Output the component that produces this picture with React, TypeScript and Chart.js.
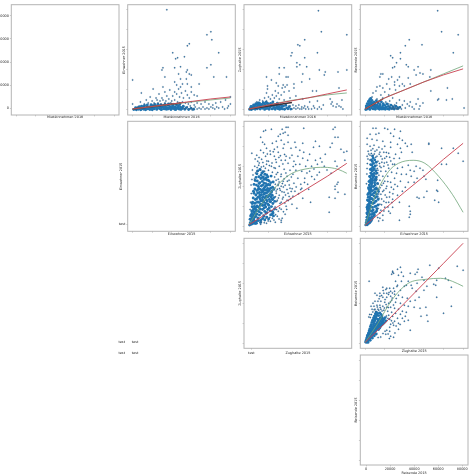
import React, { useEffect, useRef } from "react";
import { Chart, registerables } from "chart.js";

Chart.register(...registerables);

const labelMiete = "Mieteinnahmen 2016";
const labelEinwohner = "Einwohner 2015";
const labelZughalte = "Zughalte 2015";
const labelReisende = "Reisende 2015";
const testLabel = "test";

const mieteEinwohner = [[35,100],[76,75],[80,78],[81,70],[58,66],[56,64],[41,57],[88,57],[53,53],[46,52],[44,51],[80,45],[76,42],[49,43],[43,42],[31,42],[30,40],[56,40],[55,38],[58,36],[47,36],[60,35],[33,33],[83,33],[96,33],[0,30],[43,28],[49,31],[55,31],[51,26],[56,26],[68,26],[31,23],[45,25],[49,23],[60,23],[47,21],[21,21],[9,17],[54,19],[60,18],[43,18],[50,17],[56,15],[63,15],[41,14],[27,16],[33,18],[38,20],[45,16],[48,13],[52,12],[58,12],[66,14],[35,14],[30,12],[24,12],[18,13],[14,10],[8,8],[0,6],[5,3],[100,13],[95,10],[90,8],[100,6],[98,4],[85,7],[25,10],[28,9],[31,10],[34,9],[37,11],[40,9],[43,10],[46,8],[20,9],[16,7],[12,6],[22,7],[26,7],[29,6],[33,7],[36,6],[39,7],[42,6],[45,6],[48,7],[51,8],[54,7],[57,6],[60,8],[63,5],[66,7],[70,6],[74,8],[78,6],[82,5],[86,3],[92,3],[72,3],[76,2],[80,3],[84,1],[88,2],[94,1],[97,2],[68,2],[64,3],[60,2],[56,3],[52,2],[54,1],[58,1],[62,1],[66,1],[70,1],[74,1],[78,1],[82,2],[59,4],[61,0]];
const mieteEinwohnerCore = [[1.2,0.4],[2.7,1.1],[3.9,0.2],[5.3,1.6],[6.1,0.7],[7.8,2.2],[8.4,0.3],[9.6,1.3],[10.7,2.9],[11.5,0.8],[12.9,1.9],[13.3,0.2],[14.8,3.1],[15.6,1.1],[16.2,2.4],[17.7,0.5],[18.3,3.6],[19.4,1.7],[20.1,0.3],[21.6,2.8],[22.2,1.2],[23.5,3.9],[24.7,0.6],[25.3,2.1],[26.8,4.2],[27.4,1.4],[28.1,3.2],[29.6,0.4],[30.2,2.5],[31.9,4.4],[32.3,1.1],[33.7,3.3],[34.4,0.7],[35.8,2.2],[36.5,4.7],[37.1,1.5],[38.6,3.4],[39.2,0.5],[40.7,2.7],[41.3,4.5],[42.9,1.2],[43.6,3.1],[44.2,0.4],[45.5,2.4],[46.8,4.1],[47.3,1.3],[48.9,2.9],[49.4,0.6],[50.6,2.1],[51.8,3.8],[3.1,2.3],[6.9,3.4],[9.2,3.9],[12.2,4.4],[15.1,4.9],[18.9,5.2],[22.7,5.4],[25.9,5.7],[29.1,5.1],[33.2,5.8],[36.9,5.9],[40.1,5.6],[44.8,5.3],[48.2,5.4],[20.8,4.2],[24.1,2.9],[27.9,2.4],[31.1,3.3],[34.9,1.6],[38.2,2.3],[42.2,2.3],[46.1,1.7],[50.2,1.2],[53.4,0.8],[55.1,2.4],[57.3,0.5],[59.8,1.6],[62.4,0.7],[13.9,1.1],[17.1,1.6],[21.1,1.4],[24.9,1.7],[28.8,0.8],[32.9,2.1],[36.1,0.9],[39.9,1.3],[43.1,0.7],[47.7,0.9]];

const mieteZughalte = [[71,99],[74,78],[100,75],[57,70],[50,65],[52,64],[70,57],[44,57],[43,54],[57,52],[49,47],[52,45],[49,43],[59,43],[31,42],[36,42],[72,40],[78,38],[77,35],[91,38],[100,40],[31,36],[55,36],[18,33],[38,33],[40,33],[23,30],[62,31],[54,28],[46,26],[28,27],[19,24],[19,21],[35,25],[39,25],[37,23],[30,24],[34,22],[92,22],[65,19],[69,19],[46,22],[41,19],[36,18],[30,17],[27,19],[18,17],[24,15],[28,14],[33,15],[20,13],[16,12],[22,11],[26,12],[14,9],[11,10],[8,8],[18,9],[31,11],[36,10],[42,12],[48,14],[55,11],[62,8],[70,9],[83,11],[85,8],[86,4],[90,6],[92,4],[95,10],[96,1],[94,3],[89,3],[84,6],[76,5],[72,3],[66,4],[60,3],[42,4],[45,5],[48,4],[51,5],[54,3],[57,4],[44,1],[46,2],[48,1],[50,2],[52,1],[54,1],[56,2],[58,1],[61,1],[64,1],[67,2],[70,1],[74,1]];
const mieteZughalteCore = [[0.8,0.6],[1.9,2.1],[2.6,0.4],[3.4,3.2],[4.1,1.3],[4.9,5.1],[5.7,2.6],[6.4,0.7],[7.2,6.2],[7.9,3.4],[8.6,1.2],[9.3,4.7],[10.1,2.3],[10.8,6.8],[11.5,0.9],[12.3,3.8],[13.2,5.6],[13.9,1.7],[14.7,7.3],[15.4,2.9],[16.1,0.6],[16.9,4.9],[17.6,7.7],[18.3,1.4],[19.1,3.3],[19.8,5.8],[20.6,0.8],[21.4,2.5],[22.1,6.4],[22.9,4.1],[23.7,1.1],[24.5,7.9],[25.2,3.1],[26.1,5.2],[26.8,0.7],[27.6,2.2],[28.3,4.4],[29.1,6.7],[29.9,1.3],[30.7,3.6],[31.5,0.8],[32.3,5.1],[33.2,2.4],[34.1,1.1],[35.3,3.9],[36.4,0.7],[37.6,4.7],[38.7,2.1],[39.9,1.2],[41.2,3.2],[42.8,0.9],[5.2,4.3],[8.9,5.4],[12.6,2.2],[3.1,1.6],[6.1,4.7],[9.7,7.1],[14.2,4.3],[17.3,2.4],[20.2,4.2],[23.4,6.1],[25.9,1.8],[28.9,2.9],[31.1,2.2],[33.7,4.2],[11.1,4.8],[15.8,6.3],[18.9,6.8],[1.3,1.2],[2.2,3.5]];

const mieteReisende = [[74,99],[78,78],[95,75],[45,70],[58,65],[41,64],[90,57],[36,57],[26,54],[28,52],[36,51],[32,47],[42,45],[44,43],[30,43],[28,42],[54,43],[50,40],[67,40],[56,37],[59,36],[16,36],[18,36],[15,33],[27,33],[35,33],[66,33],[44,32],[52,35],[33,30],[30,28],[24,31],[38,26],[35,24],[30,25],[22,26],[15,24],[12,23],[18,22],[25,21],[31,20],[40,24],[46,26],[67,19],[84,22],[75,11],[74,10],[83,10],[89,11],[101,2],[59,7],[54,11],[46,8],[52,6],[56,4],[48,3],[43,6],[40,9],[35,10],[32,7],[28,12],[24,15],[20,18],[16,15],[11,19],[8,17],[7,13],[12,11],[18,12],[25,9],[30,5],[36,3],[41,2],[45,4],[50,1],[55,1],[38,5],[33,3],[28,4],[24,6],[21,8],[25,3],[28,2],[31,2],[34,1],[37,1],[27,1],[29,1],[30,2],[32,1],[33,1]];
const mieteReisendeCore = [[0.6,0.5],[1.3,2.4],[1.9,0.9],[2.5,4.3],[3.1,1.7],[3.7,6.2],[4.2,3.1],[4.8,0.6],[5.3,8.1],[5.9,4.9],[6.4,2.2],[6.9,9.4],[7.5,6.6],[8.1,1.1],[8.6,3.7],[9.2,7.8],[9.8,5.3],[10.3,0.8],[10.9,2.9],[11.4,9.3],[12.1,4.7],[12.7,1.6],[13.3,6.9],[13.9,3.2],[14.6,0.7],[15.2,5.4],[15.8,2.1],[16.5,8.1],[17.1,0.9],[17.8,3.9],[18.4,6.2],[19.1,1.8],[19.8,4.6],[20.5,0.8],[21.2,2.9],[22.1,5.9],[22.8,1.2],[23.6,3.6],[24.5,0.7],[25.4,2.3],[26.3,4.8],[27.4,1.4],[28.5,3.1],[29.7,0.9],[31.3,3.8],[33.2,1.8],[35.1,2.6],[2.1,6.3],[3.3,8.4],[4.5,10.2],[5.6,11.4],[6.8,7.3],[1.1,4.1],[2.8,2.6],[3.9,4.8],[5.1,6.2],[7.2,4.3],[8.3,5.4],[9.6,2.3],[11.2,3.8],[13.1,2.2],[14.8,4.1],[16.9,2.4],[18.7,1.1]];

const einwohnerZughalte = [[88,99],[86,97],[15,95],[17,96],[23,97],[34,97],[38,99],[40,99],[56,98],[35,93],[37,94],[32,92],[30,90],[12,89],[40,91],[88,89],[91,89],[14,84],[16,82],[24,83],[28,85],[33,86],[36,82],[40,84],[47,84],[55,83],[68,85],[72,80],[85,83],[83,79],[94,77],[97,74],[3,73],[8,71],[12,76],[18,78],[26,77],[30,74],[35,78],[43,78],[48,79],[52,76],[56,74],[62,72],[66,79],[78,72],[100,75],[38,70],[44,71],[50,70],[55,68],[60,66],[68,66],[73,68],[26,70],[22,72],[17,70],[13,67],[9,65],[20,65],[28,64],[33,66],[40,63],[46,65],[52,62],[58,60],[64,60],[70,62],[77,60],[88,65],[98,66],[90,60],[6,60],[10,61],[15,60],[18,62],[23,60],[27,58],[31,60],[36,57],[42,56],[48,56],[54,55],[62,55],[72,54],[84,53],[8,55],[12,56],[16,55],[20,56],[24,54],[28,52],[33,52],[39,50],[45,52],[50,48],[57,48],[67,47],[30,47],[35,45],[41,46],[46,43],[53,42],[60,42],[54,38],[61,37],[91,44],[90,42],[88,40],[88,37],[91,34],[98,32],[82,29],[88,28],[27,42],[30,42],[33,40],[37,41],[42,38],[47,35],[29,37],[32,36],[36,34],[40,33],[45,30],[55,28],[63,24],[82,14],[28,33],[31,31],[35,29],[39,26],[44,22],[49,18],[29,26],[33,24],[38,20],[33,17],[37,12],[30,15],[29,10],[34,8],[24,8],[33,6],[22,5],[27,4],[33,4],[18,3],[12,2]];
const einwohnerZughalteWide = [[26.3,49.2],[27.8,46.1],[29.4,53.7],[30.9,44.3],[32.7,49.8],[34.2,42.7],[36.1,47.6],[37.8,53.2],[39.3,45.1],[41.2,41.4],[43.4,49.3],[26.6,38.4],[27.9,35.2],[29.7,40.7],[31.3,37.8],[33.8,34.6],[35.2,39.2],[37.4,31.3],[38.9,36.7],[41.1,29.8],[43.2,34.9],[27.1,29.6],[28.4,24.7],[30.2,28.3],[31.8,22.9],[34.3,27.4],[36.7,23.2],[40.3,25.8],[42.7,27.6],[26.8,19.4],[28.2,16.7],[31.3,18.2],[35.3,14.6],[38.6,16.9],[8.4,58.7],[10.6,63.4],[12.7,59.2],[14.3,63.8],[16.8,58.1],[18.3,65.2],[20.9,60.7],[23.6,63.4],[25.7,58.6],[27.4,66.8],[30.6,68.9],[34.7,62.4],[37.2,66.1],[5.7,47.3],[6.8,53.2],[4.2,51.4],[3.1,46.8],[2.4,32.7],[2.2,41.3],[3.6,56.2],[1.6,24.1],[1.2,16.8],[21.3,8.9],[19.7,5.4],[17.4,8.1],[15.7,3.6],[14.6,11.2],[12.8,4.2],[27.3,11.6],[25.6,6.2],[30.8,7.4],[18.9,72.4],[21.7,75.3],[24.9,74.6],[29.1,79.2],[32.2,70.6],[36.4,71.9],[10.4,68.7],[6.4,67.2],[14.9,73.6],[41.7,68.4],[45.3,59.8],[47.8,61.7],[44.2,37.6],[48.3,39.4],[50.7,32.6],[52.9,36.7],[56.8,43.9],[59.3,53.2],[64.2,49.7],[66.4,57.3],[69.7,51.2],[74.6,64.3],[79.8,56.2]];
const einwohnerZughalteCore = [[0.7,1.3],[1.4,3.6],[2.1,1.9],[2.6,5.7],[3.2,8.4],[3.9,3.2],[4.3,11.6],[4.8,6.1],[5.4,14.2],[5.9,9.3],[6.3,2.7],[6.8,17.1],[7.4,12.4],[7.9,5.2],[8.3,20.3],[8.8,15.6],[9.4,8.1],[9.9,24.1],[10.3,18.7],[10.8,11.2],[11.4,27.6],[11.9,22.3],[12.3,6.4],[12.8,31.2],[13.4,25.9],[13.9,16.8],[14.3,35.3],[14.8,29.4],[15.4,10.1],[15.9,38.6],[16.4,21.2],[16.9,33.1],[17.4,42.7],[17.9,26.4],[18.5,13.7],[19.1,37.8],[19.6,46.2],[20.2,30.9],[20.8,18.3],[21.4,41.3],[22.1,24.6],[22.7,50.2],[23.3,35.4],[24.1,14.8],[24.8,44.3],[25.6,28.7],[2.3,11.2],[2.9,15.3],[3.4,19.6],[3.8,24.2],[4.4,28.3],[4.9,17.7],[5.2,33.1],[5.7,22.9],[6.1,37.4],[6.6,26.8],[7.1,31.3],[7.7,41.2],[8.1,35.7],[8.6,45.3],[9.2,29.1],[9.7,39.9],[10.2,49.6],[10.7,33.8],[11.2,43.7],[11.7,36.9],[12.2,47.8],[12.7,40.3],[13.2,53.2],[13.7,44.9],[14.2,20.7],[14.7,49.3],[15.2,24.1],[15.7,43.1],[16.2,14.9],[16.7,47.2],[17.2,19.4],[17.7,36.1],[18.2,51.3],[18.7,29.2],[19.3,22.4],[19.9,41.8],[20.4,35.7],[20.9,26.9],[21.6,32.3],[22.3,38.2],[23.1,19.7],[23.8,31.1],[24.5,22.8],[25.3,36.9],[26.2,17.3],[1.2,7.1],[1.8,10.3],[2.4,6.8],[3.1,12.9],[3.6,4.9],[4.1,9.1],[4.6,16.2],[5.1,7.2],[5.6,19.8],[6.2,12.7],[6.7,23.3],[7.2,9.8],[7.8,27.4],[8.4,12.2],[8.9,33.2],[9.5,19.4],[10.1,37.8],[10.6,14.6],[11.1,31.3],[11.6,17.2],[12.1,25.4],[12.6,13.2],[13.1,35.8],[13.6,21.7],[14.1,41.2],[14.6,25.8],[15.1,31.9],[15.6,18.3],[16.1,36.2],[16.6,28.4],[17.1,23.2],[17.6,13.1],[18.1,33.4],[18.6,40.9],[19.2,16.8],[19.8,29.7],[20.3,21.1],[21.1,37.2],[21.8,15.4],[22.6,29.3],[23.4,11.9],[24.3,26.7],[25.1,10.4],[26.4,24.9],[3.3,22.8],[4.7,35.1],[5.3,41.9],[6.4,45.8],[7.3,48.9],[8.2,52.6],[9.1,55.4],[10.4,42.7],[11.3,56.8],[12.4,51.2],[13.3,48.7],[14.4,54.6],[15.3,46.9],[16.3,52.1],[17.3,48.4],[18.4,46.3],[19.4,49.6],[20.6,45.2],[22.4,43.7],[24.2,39.1],[6.9,19.1],[7.6,15.2],[8.7,24.3],[9.3,36.7],[10.9,29.6],[11.8,20.9],[12.9,33.7],[13.8,28.6],[14.9,37.4],[15.8,33.2],[16.8,39.9],[17.8,30.1],[18.8,25.2],[19.7,34.8],[20.7,31.2],[21.7,24.7],[22.9,33.9],[23.7,27.1],[3.7,2.6],[5.8,4.4],[7.7,3.1],[9.8,5.7],[11.9,3.9],[14.1,7.8],[16.2,6.3],[18.3,9.2],[20.1,7.3],[22.2,11.4],[24.7,13.3]];

const einwohnerReisende = [[8,98],[11,98],[20,98],[23,97],[30,97],[5,92],[11,92],[14,93],[26,93],[29,90],[36,95],[2,88],[7,87],[12,86],[18,85],[26,84],[35,88],[38,86],[41,83],[2,82],[5,80],[9,81],[14,79],[20,80],[26,79],[33,82],[36,78],[43,80],[47,82],[65,82],[90,78],[78,78],[65,83],[3,75],[6,76],[10,75],[15,74],[19,74],[24,73],[31,72],[37,74],[48,74],[95,73],[2,70],[5,71],[8,71],[12,70],[16,70],[20,68],[25,69],[35,68],[13,65],[17,64],[22,64],[28,62],[100,65],[83,62],[12,61],[15,60],[19,60],[24,58],[30,62],[33,58],[38,59],[44,61],[52,60],[56,58],[59,56],[50,55],[46,56],[13,56],[16,55],[21,55],[27,54],[32,53],[37,52],[42,52],[47,50],[53,48],[11,52],[14,51],[18,50],[23,50],[30,48],[36,45],[44,44],[50,44],[60,50],[62,47],[78,62],[12,47],[15,46],[20,45],[26,44],[33,40],[41,39],[74,46],[13,42],[17,41],[22,40],[29,37],[38,35],[63,35],[73,36],[74,35],[14,37],[19,36],[25,34],[33,31],[16,32],[22,29],[28,27],[53,29],[55,28],[60,29],[71,26],[14,28],[19,25],[24,24],[75,24],[35,24],[15,22],[20,19],[28,19],[45,20],[46,15],[16,16],[24,15],[18,11],[35,6],[45,9],[46,12],[15,8],[18,6]];
const einwohnerReisendeWide = [[13.7,32.4],[15.2,38.6],[16.8,27.3],[17.9,34.7],[18.6,43.1],[20.4,31.2],[21.3,37.8],[23.1,44.7],[24.8,29.4],[26.7,39.1],[28.3,32.6],[30.4,41.9],[12.3,57.9],[14.6,62.8],[16.2,58.7],[17.4,67.2],[19.6,63.4],[21.8,69.7],[23.3,61.2],[26.1,65.3],[29.4,67.8],[14.3,72.1],[17.2,77.4],[21.6,73.9],[13.2,17.8],[14.9,13.2],[16.7,21.6],[19.1,15.3],[21.4,23.8],[23.2,19.2],[25.6,13.1],[27.3,23.7],[12.8,8.7],[13.7,5.2],[1.3,42.6],[1.7,52.3],[2.2,62.7],[1.9,57.8],[2.8,67.4],[3.6,72.3],[4.8,66.2],[6.3,72.8],[7.8,77.6],[9.4,72.4],[10.7,69.1],[11.9,76.3]];
const einwohnerReisendeCore = [[0.6,1.4],[1.1,3.8],[1.4,6.2],[1.8,9.1],[2.1,12.3],[2.3,4.7],[2.6,15.4],[2.9,7.6],[3.1,18.7],[3.3,10.9],[3.6,22.1],[3.8,13.8],[4.1,25.6],[4.3,17.3],[4.6,29.2],[4.8,20.6],[5.1,33.4],[5.3,8.2],[5.5,24.1],[5.8,37.2],[6.1,11.7],[6.2,27.9],[6.5,41.3],[6.7,15.1],[6.9,31.6],[7.2,45.2],[7.4,18.9],[7.6,35.7],[7.9,22.7],[8.1,49.3],[8.3,26.4],[8.6,39.8],[8.8,13.3],[9.1,30.2],[9.4,53.1],[9.6,43.6],[9.9,19.7],[10.3,34.3],[10.6,47.8],[10.9,25.1],[11.3,38.4],[11.7,15.2],[12.2,29.7],[12.6,42.9],[13.1,21.3],[13.6,34.8],[2.2,17.4],[2.5,21.2],[2.8,25.8],[3.2,29.1],[3.5,33.2],[3.7,37.4],[4.2,41.2],[4.4,35.3],[4.7,45.3],[4.9,39.1],[5.2,49.6],[5.4,43.2],[5.7,53.2],[5.9,47.1],[6.3,57.3],[6.6,51.2],[6.8,61.4],[7.1,55.2],[7.3,64.8],[7.7,59.1],[8.2,68.2],[8.5,62.9],[9.2,57.7],[9.7,66.4],[10.2,60.3],[10.8,55.6],[11.2,64.1],[1.7,13.2],[1.9,19.1],[2.4,26.3],[2.7,31.8],[3.4,38.6],[3.9,44.7],[4.5,49.9],[5.3,56.8],[5.6,61.7],[6.4,66.3],[7.5,70.2],[3.1,5.6],[3.6,8.9],[4.2,12.1],[4.7,6.3],[5.1,15.7],[5.6,19.4],[6.1,23.8],[6.6,9.2],[7.1,27.3],[7.6,12.6],[8.1,16.4],[8.7,33.1],[9.3,23.6],[9.8,37.1],[10.4,28.7],[11.1,20.2],[11.6,32.2],[12.4,36.8],[13.2,26.9],[1.2,2.2],[2.1,1.6],[3.3,2.7],[4.4,3.4],[5.4,4.6],[6.3,5.7],[7.2,7.8],[8.3,9.9],[9.4,11.3],[10.7,14.2],[11.9,17.6],[2.9,13.1],[3.4,16.2],[3.9,19.9],[4.3,23.2],[4.9,27.4],[5.4,31.2],[5.9,35.1],[6.4,39.2],[6.9,43.4],[7.4,47.6],[7.9,52.1],[8.4,56.4],[8.9,50.3],[9.5,46.1],[10.1,41.4],[10.7,45.9],[11.4,49.2],[12.1,53.2]];

const zughalteReisende = [[66,78],[75,75],[94,77],[100,73],[28,72],[28,71],[27,69],[29,70],[36,76],[33,74],[37,71],[34,68],[39,67],[46,70],[53,71],[54,74],[51,69],[58,66],[60,63],[44,62],[85,63],[82,65],[73,63],[47,58],[53,60],[40,57],[4,62],[31,62],[37,62],[42,58],[33,58],[29,55],[25,55],[22,55],[18,56],[63,57],[70,59],[72,58],[88,56],[60,53],[52,52],[48,55],[36,53],[30,52],[26,52],[22,50],[19,50],[15,50],[10,50],[12,48],[15,47],[18,46],[22,46],[26,47],[30,49],[34,48],[38,46],[43,45],[46,42],[51,43],[55,46],[73,46],[8,40],[10,42],[13,42],[16,42],[20,41],[24,40],[27,43],[31,41],[36,40],[40,38],[44,37],[50,36],[56,35],[6,37],[9,37],[12,38],[15,38],[18,37],[22,36],[26,36],[30,35],[34,34],[38,32],[42,31],[62,36],[88,37],[7,34],[10,34],[13,34],[16,34],[19,33],[23,32],[27,31],[31,30],[36,29],[41,27],[44,23],[63,28],[64,22],[80,30],[24,28],[28,27],[33,25],[38,25],[57,27],[25,24],[30,22],[34,20],[40,22],[26,19],[29,18],[34,14],[46,13],[25,16],[22,13],[25,12],[21,9],[26,7],[29,6]];
const zughalteReisendeWide = [[6.3,28.7],[7.8,31.4],[9.2,33.6],[10.7,31.9],[12.4,36.2],[13.8,33.1],[15.3,35.7],[17.2,32.4],[19.6,35.2],[21.4,38.7],[23.6,35.8],[25.7,41.3],[28.9,38.2],[14.2,44.6],[16.7,47.8],[20.3,43.7],[23.8,48.9],[27.6,45.2],[31.7,44.8],[18.4,52.7],[21.1,53.8],[24.3,50.7],[27.8,50.4],[32.4,56.7],[3.7,26.4],[4.6,28.9],[5.2,25.7],[21.7,27.3],[23.2,24.9],[26.8,22.6],[28.3,20.4],[31.6,17.3],[35.7,18.9],[18.2,9.8],[20.3,12.1],[23.4,9.4],[15.8,6.2],[13.2,5.7],[24.7,4.8],[30.4,10.2]];
const zughalteReisendeCore = [[0.4,1.2],[0.9,2.8],[1.3,1.1],[1.6,4.3],[1.9,2.3],[2.2,6.1],[2.5,3.4],[2.8,8.2],[3.1,4.6],[3.4,10.4],[3.7,5.7],[4.1,12.6],[4.4,7.2],[4.7,14.3],[5.1,8.6],[5.4,16.8],[5.7,9.8],[6.1,18.6],[6.4,11.2],[6.8,20.9],[7.2,12.7],[7.6,23.1],[8.1,14.1],[8.5,25.3],[8.9,15.8],[9.4,27.2],[9.9,17.2],[10.4,29.4],[10.9,18.9],[11.4,31.1],[11.9,20.6],[12.5,24.2],[13.1,22.3],[13.7,27.7],[14.3,23.9],[14.9,30.4],[15.5,25.7],[16.2,28.9],[17.1,27.4],[1.2,3.3],[1.8,5.6],[2.3,7.7],[2.7,4.8],[3.2,9.1],[3.6,7.1],[4.2,10.3],[4.6,9.2],[5.2,12.1],[5.6,11.3],[6.2,14.3],[6.6,13.2],[7.3,16.1],[7.7,14.8],[8.3,18.2],[8.8,19.9],[9.2,21.7],[9.7,22.8],[10.2,24.3],[10.7,25.6],[11.2,26.7],[11.8,28.3],[12.2,18.4],[12.8,29.9],[13.3,19.2],[13.9,20.6],[14.5,21.6],[15.2,23.2],[15.8,22.1],[16.6,24.2],[17.6,25.1],[2.1,1.8],[3.3,2.7],[4.3,3.9],[5.3,5.2],[6.3,6.4],[7.1,7.8],[8.2,9.1],[9.1,10.4],[10.1,11.8],[11.1,13.2],[12.1,14.7],[13.2,15.9],[14.2,17.1],[15.1,18.6],[16.1,19.7],[17.3,21.2],[18.4,22.6],[19.2,24.1],[20.4,25.7],[3.8,6.2],[4.9,8.1],[5.9,7.2],[6.9,9.7],[7.9,11.1],[8.7,12.3],[9.6,13.7],[10.6,15.1],[11.6,16.6],[12.6,17.1],[13.6,13.8],[14.8,15.2],[15.7,16.8],[16.9,18.2],[18.1,19.3],[19.4,20.6],[21.2,22.3],[2.9,0.9],[5.1,3.1],[7.4,5.2],[9.3,7.6],[11.3,9.3]];

const lineXs = [0, 20, 40, 60, 80, 100];
const redMieteEinwohner = [1, 3.5, 6, 8.5, 11, 13];
const greenMieteEinwohner = [1, 3.4, 5.8, 8, 10, 12];
const darkMieteEinwohner = [[0,1],[50,7]];
const redMieteZughalte = [1, 5, 8.5, 12, 16, 20];
const greenMieteZughalte = [1, 5, 9, 12, 15, 17];
const darkMieteZughalte = [[0,1],[44,7.5]];
const redMieteReisende = [1, 12, 20, 28, 35, 41];
const greenMieteReisende = [1, 12, 20, 28, 36, 44];
const darkMieteReisende = [[0,1],[18,11]];
const redEinwohnerZughalte = [1.5, 14, 26, 38, 50, 63];
const greenCurveD = [[0,1.5],[15,25],[31,43],[44,53],[62,58],[77,59],[91,57],[100,53]];
const redEinwohnerReisende = [1, 17.5, 34, 50, 67, 83];
const greenCurveE = [[0,1],[10,30],[24,55],[34,63],[49,66],[61,63],[75,50],[89,32],[100,14]];
const redZughalteReisende = [1, 20, 40, 60, 80, 100];
const greenCurveF = [[0,1],[13,20],[27,43],[44,60],[62,64],[77,65],[89,62],[100,57]];

const reisendeTicks = [0, 20000, 40000, 60000, 80000];
const mieteTicks = [0, 10000, 20000, 30000, 40000];
const percentTicks = [0, 20, 40, 60, 80, 100];
const testCells = [[0,0],[1,0],[0,1],[1,1]];

const asPoints = (rows: number[][]) => rows.map(([x, y]) => ({ x, y }));
const straight = (ys: number[]) => lineXs.map((x, i) => ({ x, y: ys[i] }));

const FONT = "'DejaVu Sans'";
const SIZE = 3.4;
const LINE = 4.2;
const colX = [[11.3, 119], [127.7, 235.3], [244, 351.7], [360.3, 468]];
const rowY = [[4.7, 115], [121.3, 231.3], [238.3, 348.3], [355, 465]];

const frame = {
  id: "frame",
  afterDraw(chart: any) {
    const { ctx, chartArea: a } = chart;
    ctx.save();
    ctx.strokeStyle = "#b4b4b4";
    ctx.lineWidth = 1;
    ctx.strokeRect(a.left, a.top, a.width, a.height);
    ctx.restore();
  },
};

const cellText = {
  id: "cellText",
  afterDatasetsDraw(chart: any) {
    const { ctx } = chart;
    ctx.save();
    ctx.font = `${SIZE}px ${FONT}`;
    ctx.fillStyle = "#222";
    ctx.textAlign = "center";
    ctx.textBaseline = "middle";
    chart.getDatasetMeta(0).data.forEach((el: any) => ctx.fillText(testLabel, el.x, el.y));
    ctx.restore();
  },
};

function axis(o: any) {
  return {
    type: "linear",
    min: o.min,
    max: o.max,
    title: o.title
      ? { display: true, text: o.title, color: "#222", padding: 0, font: { family: FONT, size: SIZE, lineHeight: LINE / SIZE } }
      : { display: false },
    border: { display: false },
    grid: { display: true, drawOnChartArea: false, drawTicks: true, tickLength: 1.4, tickColor: "#aaa", tickWidth: 0.6 },
    ticks: {
      padding: o.tickPad ?? 1,
      autoSkip: false,
      maxRotation: 0,
      minRotation: 0,
      color: "#222",
      font: { family: FONT, size: SIZE },
      callback: (v: number) => (o.label ? o.label(v) : ""),
    },
    afterBuildTicks: (s: any) => {
      s.ticks = o.ticks.map((value: number) => ({ value }));
    },
    afterFit: (s: any) => {
      if (o.horizontal) s.height = o.size;
      else s.width = o.size;
    },
  };
}

function panel(p: any) {
  const [L, R] = colX[p.col];
  const [T, B] = rowY[p.row];
  const xSize = p.xSize ?? 2.5 + LINE / 2;
  const ySize = p.ySize ?? 3.7 + LINE / 2;
  const datasets: any[] = [];
  if (p.core) {
    datasets.push({ type: "scatter", data: asPoints(p.core), order: 4, pointRadius: 1.45, pointBorderWidth: 0, pointBackgroundColor: "#2074b0" });
  }
  if (p.points) {
    datasets.push({ type: "scatter", data: asPoints(p.points), order: 3, pointRadius: 0.75, pointBorderWidth: 0.3, pointBackgroundColor: "#2a78b0", pointBorderColor: "rgba(60,70,85,0.6)" });
  }
  if (p.dark) datasets.push({ type: "line", data: asPoints(p.dark), order: 2.5, borderColor: "#3c3438", borderWidth: 1.4, pointRadius: 0 });
  if (p.green) datasets.push({ type: "line", data: p.green, order: 2, borderColor: "#6fa578", borderWidth: 0.8, pointRadius: 0, cubicInterpolationMode: "monotone" });
  if (p.red) datasets.push({ type: "line", data: p.red, order: 1, borderColor: "#c8404f", borderWidth: 0.9, pointRadius: 0, tension: 0 });
  return {
    type: "scatter",
    data: { datasets },
    options: {
      responsive: false,
      animation: false,
      events: [],
      layout: { padding: { left: L - ySize, top: T, right: 474 - R, bottom: 474 - B - xSize } },
      plugins: { legend: { display: false }, tooltip: { enabled: false } },
      scales: {
        x: axis({ horizontal: true, size: xSize, title: p.xTitle, min: p.xMin ?? -5, max: p.xMax ?? 105, ticks: p.xTicks ?? percentTicks, label: p.xLabel, tickPad: p.xPad }),
        y: axis({ size: ySize, title: p.yTitle, min: p.yMin ?? -5, max: p.yMax ?? 105, ticks: p.yTicks ?? percentTicks, label: p.yLabel, tickPad: p.yPad }),
      },
    },
    plugins: [frame],
  };
}

const panels: any[] = [
  { row: 0, col: 0, xTitle: labelMiete, ySize: 11.3, yMin: -2900, yMax: 44800, yTicks: mieteTicks, yLabel: (v: number) => String(v) },
  { row: 0, col: 1, xTitle: labelMiete, yTitle: labelEinwohner, points: mieteEinwohner, core: mieteEinwohnerCore, dark: darkMieteEinwohner, green: straight(greenMieteEinwohner), red: straight(redMieteEinwohner) },
  { row: 0, col: 2, xTitle: labelMiete, yTitle: labelZughalte, points: mieteZughalte, core: mieteZughalteCore, dark: darkMieteZughalte, green: straight(greenMieteZughalte), red: straight(redMieteZughalte) },
  { row: 0, col: 3, xTitle: labelMiete, yTitle: labelReisende, points: mieteReisende, core: mieteReisendeCore, dark: darkMieteReisende, green: straight(greenMieteReisende), red: straight(redMieteReisende) },
  { row: 1, col: 1, xTitle: labelEinwohner, yTitle: labelEinwohner, ySize: 9, yTicks: [2], yLabel: () => testLabel },
  { row: 1, col: 2, xTitle: labelEinwohner, yTitle: labelZughalte, points: [...einwohnerZughalte, ...einwohnerZughalteWide], core: einwohnerZughalteCore, green: asPoints(greenCurveD), red: straight(redEinwohnerZughalte) },
  { row: 1, col: 3, xTitle: labelEinwohner, yTitle: labelReisende, points: [...einwohnerReisende, ...einwohnerReisendeWide], core: einwohnerReisendeCore, green: asPoints(greenCurveE), red: straight(redEinwohnerReisende) },
  { row: 2, col: 2, xTitle: labelZughalte, yTitle: labelZughalte, xSize: 7, xTicks: [2.5], xLabel: () => testLabel, xPad: 1.5 },
  { row: 2, col: 3, xTitle: labelZughalte, yTitle: labelReisende, points: [...zughalteReisende, ...zughalteReisendeWide], core: zughalteReisendeCore, green: asPoints(greenCurveF), red: straight(redZughalteReisende) },
  { row: 3, col: 3, xTitle: labelReisende, yTitle: labelReisende, xSize: 9.8, xMin: -4770, xMax: 84770, xTicks: reisendeTicks, xLabel: (v: number) => String(v) },
];

const cellsConfig: any = {
  type: "scatter",
  data: { datasets: [{ data: asPoints(testCells), pointRadius: 0 }] },
  options: {
    responsive: false,
    animation: false,
    events: [],
    layout: { padding: { left: 121.7, top: 342, right: 474 - 135, bottom: 474 - 353.3 } },
    plugins: { legend: { display: false }, tooltip: { enabled: false } },
    scales: {
      x: { display: false, min: 0, max: 1 },
      y: { display: false, min: 0, max: 1 },
    },
  },
  plugins: [cellText],
};

export default function App() {
  const host = useRef<HTMLDivElement>(null);
  useEffect(() => {
    const el = host.current!;
    const charts: Chart[] = [];
    [...panels.map(panel), cellsConfig].forEach((cfg) => {
      const c = document.createElement("canvas");
      c.width = 474;
      c.height = 474;
      c.style.cssText = "position:absolute;left:0;top:0;pointer-events:none;";
      el.appendChild(c);
      charts.push(new Chart(c, cfg));
    });
    return () => {
      charts.forEach((c) => c.destroy());
      el.innerHTML = "";
    };
  }, []);
  return <div ref={host} style={{ position: "absolute", left: 0, top: 0, width: 474, height: 474, background: "#fff", overflow: "hidden" }} />;
}
